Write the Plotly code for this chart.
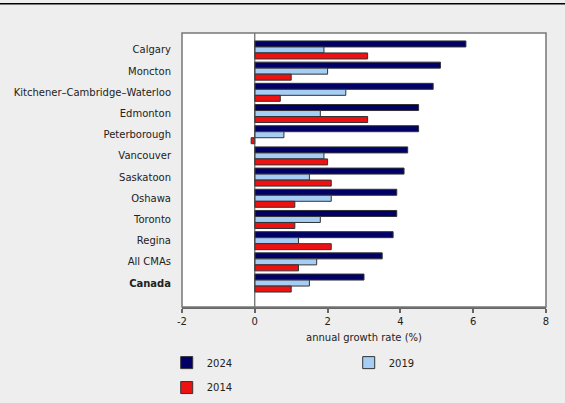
import plotly.graph_objects as go

# Population growth by CMA, annual growth rate (%)
cmas = ['Calgary', 'Moncton', 'Kitchener–Cambridge–Waterloo', 'Edmonton', 'Peterborough',
        'Vancouver', 'Saskatoon', 'Oshawa', 'Toronto', 'Regina', 'All CMAs', '<b>Canada</b>']
growth_2024 = [5.8, 5.1, 4.9, 4.5, 4.5, 4.2, 4.1, 3.9, 3.9, 3.8, 3.5, 3.0]
growth_2019 = [1.9, 2.0, 2.5, 1.8, 0.8, 1.9, 1.5, 2.1, 1.8, 1.2, 1.7, 1.5]
growth_2014 = [3.1, 1.0, 0.7, 3.1, -0.1, 2.0, 2.1, 1.1, 1.1, 2.1, 1.2, 1.0]
x_ticks = [-2, 0, 2, 4, 6, 8]
x_tick_text = ['-2', '0', '2', '4', '6', '8']

FONT = 'DejaVu Sans'
outline = dict(color='#333333', width=1)

fig = go.Figure()
fig.add_trace(go.Bar(y=cmas, x=growth_2024, name='2024', orientation='h',
                     marker=dict(color='#000066', line=outline), legend='legend'))
fig.add_trace(go.Bar(y=cmas, x=growth_2019, name='2019', orientation='h',
                     marker=dict(color='#a6cdf4', line=outline), legend='legend'))
fig.add_trace(go.Bar(y=cmas, x=growth_2014, name='2014', orientation='h',
                     marker=dict(color='#ee1111', line=outline), legend='legend2'))

# thin black rule across the top of the figure
fig.add_shape(type='line', xref='paper', yref='paper', x0=-0.6, x1=1.1, y0=1.107, y1=1.107,
              line=dict(color='black', width=1.5), layer='above')
# zero line
fig.add_vline(x=0, line=dict(color='#444444', width=1))

fig.update_layout(
    width=565, height=403,
    margin=dict(l=182, r=19, t=33, b=96, autoexpand=False),
    paper_bgcolor='#eeeeee', plot_bgcolor='white',
    barmode='group', bargap=0.15, bargroupgap=0,
    font=dict(family=FONT, size=10, color='#222222'),
    showlegend=True,
    legend=dict(orientation='h', x=-0.042, xanchor='left', y=-0.203, yanchor='middle',
                bgcolor='rgba(0,0,0,0)', entrywidth=137, itemwidth=30, traceorder='normal',
                font=dict(size=10)),
    legend2=dict(orientation='h', x=-0.042, xanchor='left', y=-0.294, yanchor='middle',
                 bgcolor='rgba(0,0,0,0)', itemwidth=30, font=dict(size=10)),
)
fig.update_xaxes(range=[-2, 8], tickvals=x_ticks, ticktext=x_tick_text,
                 showgrid=False, zeroline=False,
                 showline=True, linecolor='#666666', linewidth=2, mirror=False,
                 ticks='outside', ticklen=4, tickcolor='#666666', tickwidth=2,
                 title=dict(text='annual growth rate (%)', standoff=8, font=dict(size=10)),
                 tickfont=dict(size=10))
fig.update_yaxes(range=[12.13, -0.8], showgrid=False, showline=False, ticks='',
                 ticklabelstandoff=10, tickfont=dict(size=10))
# grey frame on left, top, right
fig.add_shape(type='rect', xref='paper', yref='paper', x0=0, x1=1, y0=0, y1=1,
              line=dict(color='#777777', width=1.5), layer='above')

fig.write_html('out.html', config={'displayModeBar': False},
               post_script="document.body.style.margin='0px';")
